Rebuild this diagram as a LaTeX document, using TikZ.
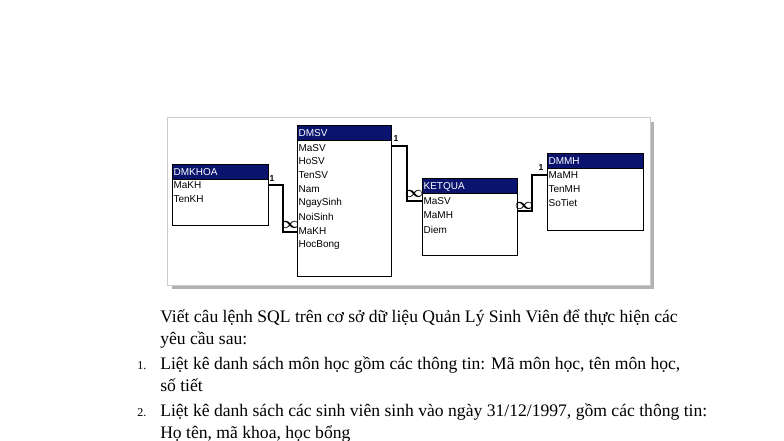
\documentclass[tikz,border=0pt]{standalone}
\usepackage{fontspec}
\setmainfont{Liberation Serif}
\newfontfamily\tabfont{Liberation Sans}
\begin{document}
\begin{tikzpicture}[x=0.75pt,y=-0.75pt,
  ttl/.style={fill={rgb,255:red,10;green,20;blue,110},draw=black,text=white,font=\tabfont\fontsize{7.5}{7}\selectfont,anchor=north west,minimum height=11.5pt,inner sep=1pt,align=left,text depth=0pt},
  fld/.style={font=\tabfont\fontsize{7.5}{7}\selectfont,anchor=west,inner sep=1pt},
  rel/.style={line width=1.8pt},
  lbl/.style={font=\tabfont\bfseries\fontsize{6.5}{6}\selectfont,inner sep=0pt},
  inf/.style={font=\fontsize{12}{12}\selectfont\boldmath,inner sep=0pt},
  para/.style={font=\fontsize{13.2}{14}\selectfont,anchor=base west,inner sep=0pt}]
\useasboundingbox (0,0) rectangle (784,441);
\fill[white] (0,0) rectangle (784,441);
% frame with shadow
\fill[gray!60] (172,122) rectangle (654,289);
\draw[gray!40,fill=white] (167,117) rectangle (650,285);
% tables
\newcommand\tbl[6]{%
  \draw[fill=white] (#2,#3) rectangle (#4,#5);
  \node[ttl,text width={(#4-#2)*0.75pt-2pt}] (#1) at (#2,#3) {#6};
}
\tbl{dmkhoa}{172}{164}{268}{225}{DMKHOA}
\tbl{dmsv}{297}{125}{391}{276}{DMSV}
\tbl{ketqua}{422}{178}{517}{255}{KETQUA}
\tbl{dmmh}{547}{153}{643}{230}{DMMH}
\foreach \t/\y in {MaKH/185,TenKH/199} \node[fld] at (172,\y) {\t};
\foreach \t/\y in {MaSV/148,HoSV/161,TenSV/175,Nam/189,NgaySinh/203,NoiSinh/217,MaKH/231,HocBong/245} \node[fld] (sv\t) at (297,\y) {\t};
\foreach \t/\y in {MaSV/201,MaMH/215,Diem/230} \node[fld] (kq\t) at (422,\y) {\t};
\foreach \t/\y in {MaMH/175,TenMH/189,SoTiet/203} \node[fld] (mh\t) at (547,\y) {\t};
% relations
\coordinate (a1) at (268,185); \coordinate (a2) at (297,232);
\draw[rel] (a1) -- (283,185) -- (283,232) -- (a2);
\node[lbl] at (272,179) {1};
\node[inf] at (290,225) {$\infty$};
\coordinate (b1) at (391,146); \coordinate (b2) at (422,201);
\draw[rel] (b1) -- (407,146) -- (407,201) -- (b2);
\node[lbl] at (396,139) {1};
\node[inf] at (414,194) {$\infty$};
\coordinate (c1) at (547,175); \coordinate (c2) at (517,211);
\draw[rel] (c1) -- (532,175) -- (532,211) -- (c2);
\node[lbl] at (541,168) {1};
\node[inf] at (524,206) {$\infty$};
% text
\node[para] at (160,322) {Viết câu lệnh SQL trên cơ sở dữ liệu Quản Lý Sinh Viên để thực hiện các};
\node[para] at (160,344) {yêu cầu sau:};
\node[para,font=\fontsize{9}{10}\selectfont] at (137,369) {1.};
\node[para] at (160,369) {Liệt kê danh sách môn học gồm các thông tin: Mã môn học, tên môn học,};
\node[para] at (160,391) {số tiết};
\node[para,font=\fontsize{9}{10}\selectfont] at (137,416) {2.};
\node[para] at (160,416) {Liệt kê danh sách các sinh viên sinh vào ngày 31/12/1997, gồm các thông tin:};
\node[para] at (160,438) {Họ tên, mã khoa, học bổng};
\end{tikzpicture}
\end{document}
